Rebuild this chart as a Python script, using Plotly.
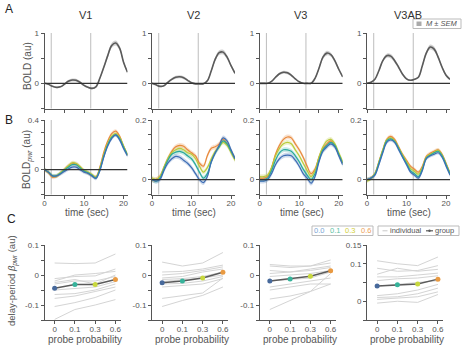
import plotly.graph_objects as go

# ---------------- data ----------------
regions = ["V1", "V2", "V3", "V3AB"]
time_sec = [0, 1, 2, 3, 4, 5, 6, 7, 8, 9, 10, 11, 12, 13, 14, 15, 16, 17, 18, 19, 20, 21]
event_times = [1.7, 11.7]

# Panel A: mean BOLD and SEM
bold_v1 = [0.0, -0.02, -0.06, -0.08, -0.07, -0.02, 0.04, 0.065, 0.06, 0.02, -0.04, -0.08,
           -0.1, -0.07, 0.1, 0.32, 0.55, 0.75, 0.8, 0.7, 0.42, 0.22]
bold_v2 = [0.0, -0.03, -0.06, -0.05, 0.02, 0.08, 0.12, 0.13, 0.11, 0.06, 0.01, -0.01,
           -0.01, -0.01, 0.05, 0.25, 0.48, 0.61, 0.62, 0.52, 0.35, 0.2]
bold_v3 = [0.0, 0.0, 0.0, 0.04, 0.12, 0.19, 0.22, 0.21, 0.16, 0.09, 0.03, 0.0,
           0.0, 0.0, 0.1, 0.3, 0.52, 0.6, 0.57, 0.45, 0.28, 0.13]
bold_v3ab = [0.0, 0.02, 0.08, 0.25, 0.45, 0.55, 0.54, 0.45, 0.32, 0.18, 0.09, 0.06,
             0.08, 0.12, 0.35, 0.6, 0.72, 0.68, 0.52, 0.32, 0.16, 0.08]
sem_v1 = [0.01, 0.01, 0.015, 0.015, 0.015, 0.02, 0.025, 0.03, 0.03, 0.025, 0.02, 0.02,
          0.02, 0.02, 0.025, 0.035, 0.045, 0.05, 0.05, 0.045, 0.035, 0.03]
sem_v2 = [0.01, 0.01, 0.015, 0.015, 0.02, 0.025, 0.03, 0.03, 0.03, 0.025, 0.02, 0.015,
          0.015, 0.015, 0.02, 0.03, 0.04, 0.045, 0.045, 0.04, 0.03, 0.025]
sem_v3 = [0.01, 0.01, 0.01, 0.015, 0.02, 0.025, 0.03, 0.03, 0.025, 0.02, 0.015, 0.015,
          0.015, 0.015, 0.02, 0.03, 0.04, 0.045, 0.04, 0.035, 0.03, 0.025]
sem_v3ab = [0.01, 0.01, 0.015, 0.02, 0.03, 0.04, 0.045, 0.04, 0.03, 0.025, 0.02, 0.015,
            0.015, 0.02, 0.03, 0.04, 0.05, 0.05, 0.04, 0.03, 0.025, 0.02]

# Panel B: BOLD_pwr per probe probability (0.0, 0.1, 0.3, 0.6)
probe_labels = ["0", "0.1", "0.3", "0.6"]
probe_legend = ["0.0", "0.1", "0.3", "0.6"]
bpwr_v1 = [
    [0.0, -0.02, -0.05, -0.05, -0.035, -0.015, 0.005, 0.02, 0.02, 0.0, -0.02, -0.03,
     -0.05, -0.07, -0.01, 0.1, 0.19, 0.25, 0.28, 0.24, 0.17, 0.11],
    [0.0, -0.02, -0.05, -0.05, -0.03, -0.005, 0.02, 0.04, 0.04, 0.015, -0.01, -0.025,
     -0.045, -0.065, 0.0, 0.11, 0.2, 0.26, 0.28, 0.25, 0.18, 0.12],
    [0.0, -0.02, -0.05, -0.05, -0.025, 0.0, 0.03, 0.055, 0.05, 0.025, -0.005, -0.02,
     -0.04, -0.06, 0.01, 0.12, 0.21, 0.27, 0.29, 0.26, 0.19, 0.12],
    [0.0, -0.025, -0.06, -0.055, -0.03, 0.0, 0.03, 0.05, 0.045, 0.02, -0.01, -0.025,
     -0.045, -0.06, 0.02, 0.14, 0.23, 0.29, 0.31, 0.27, 0.19, 0.12],
]
bpwr_v2 = [
    [0.0, -0.005, 0.0, 0.03, 0.055, 0.07, 0.078, 0.075, 0.065, 0.055, 0.04, 0.02,
     0.0, -0.01, 0.01, 0.06, 0.09, 0.115, 0.14, 0.13, 0.1, 0.07],
    [0.0, -0.005, 0.005, 0.035, 0.065, 0.085, 0.092, 0.095, 0.09, 0.08, 0.07, 0.05,
     0.025, 0.005, 0.02, 0.06, 0.09, 0.11, 0.13, 0.12, 0.095, 0.07],
    [0.005, 0.0, 0.01, 0.04, 0.07, 0.09, 0.1, 0.105, 0.1, 0.09, 0.085, 0.07,
     0.045, 0.025, 0.04, 0.07, 0.095, 0.11, 0.125, 0.115, 0.09, 0.065],
    [0.0, 0.0, 0.01, 0.04, 0.07, 0.095, 0.11, 0.115, 0.112, 0.1, 0.09, 0.08,
     0.055, 0.045, 0.08, 0.105, 0.11, 0.12, 0.135, 0.12, 0.095, 0.07],
]
bpwr_v3 = [
    [-0.005, -0.005, 0.0, 0.02, 0.05, 0.07, 0.08, 0.082, 0.08, 0.065, 0.045, 0.02,
     0.005, -0.012, 0.01, 0.06, 0.095, 0.11, 0.12, 0.11, 0.08, 0.05],
    [0.0, 0.0, 0.005, 0.03, 0.065, 0.09, 0.1, 0.1, 0.095, 0.08, 0.06, 0.035,
     0.015, 0.0, 0.02, 0.065, 0.1, 0.115, 0.125, 0.115, 0.085, 0.055],
    [0.01, 0.01, 0.015, 0.04, 0.08, 0.105, 0.12, 0.125, 0.12, 0.1, 0.08, 0.055,
     0.03, 0.01, 0.03, 0.075, 0.11, 0.13, 0.135, 0.12, 0.09, 0.06],
    [0.005, 0.005, 0.01, 0.04, 0.085, 0.115, 0.135, 0.143, 0.14, 0.12, 0.1, 0.075,
     0.045, 0.02, 0.035, 0.075, 0.105, 0.12, 0.13, 0.115, 0.085, 0.055],
]
bpwr_v3ab = [
    [0.0, 0.005, 0.015, 0.05, 0.09, 0.125, 0.133, 0.125, 0.1, 0.075, 0.05, 0.025,
     0.015, 0.005, 0.03, 0.07, 0.08, 0.085, 0.09, 0.075, 0.045, 0.015],
    [0.0, 0.005, 0.018, 0.055, 0.095, 0.13, 0.137, 0.128, 0.105, 0.078, 0.055, 0.03,
     0.02, 0.01, 0.035, 0.072, 0.082, 0.09, 0.095, 0.08, 0.05, 0.02],
    [-0.005, 0.003, 0.02, 0.058, 0.1, 0.133, 0.14, 0.13, 0.108, 0.082, 0.06, 0.038,
     0.028, 0.018, 0.04, 0.075, 0.085, 0.092, 0.098, 0.082, 0.052, 0.02],
    [0.0, 0.005, 0.02, 0.06, 0.1, 0.135, 0.145, 0.135, 0.11, 0.085, 0.065, 0.045,
     0.035, 0.025, 0.045, 0.078, 0.088, 0.095, 0.1, 0.085, 0.055, 0.022],
]
bpwr_sem = [0.015, 0.008, 0.008, 0.006]  # per region

# Panel C: delay-period beta_pwr, individual subjects and group mean
probe_pos = [1, 2, 3, 4]
indiv_v1 = [
    [0.040, 0.038, 0.040, 0.070], [-0.020, 0.000, 0.005, 0.012],
    [-0.012, -0.005, -0.003, 0.020], [-0.030, -0.020, -0.020, -0.005],
    [-0.050, -0.045, -0.040, -0.022], [-0.065, -0.062, -0.050, -0.030],
    [-0.078, -0.070, -0.055, -0.040], [-0.105, -0.092, -0.075, -0.050],
    [-0.148, -0.115, -0.100, -0.082], [-0.025, -0.015, -0.030, 0.000],
]
group_v1 = [-0.044, -0.032, -0.032, -0.015]
indiv_v2 = [
    [0.043, 0.030, 0.040, 0.075], [0.010, 0.012, 0.020, 0.033],
    [0.000, 0.005, 0.015, 0.027], [-0.010, -0.005, 0.010, 0.020],
    [-0.015, -0.012, -0.005, 0.010], [-0.022, -0.015, -0.010, 0.000],
    [-0.030, -0.028, -0.020, -0.005], [-0.040, -0.035, -0.030, -0.012],
    [-0.078, -0.070, -0.060, -0.010], [-0.105, -0.085, -0.068, -0.040],
]
group_v2 = [-0.026, -0.020, -0.010, 0.009]
indiv_v3 = [
    [0.035, 0.030, 0.030, 0.050], [0.030, 0.025, 0.030, 0.040],
    [0.015, 0.010, 0.020, 0.030], [0.005, 0.010, 0.015, 0.025],
    [-0.005, 0.000, 0.005, 0.015], [-0.020, -0.015, -0.010, 0.010],
    [-0.040, -0.030, -0.020, -0.010], [-0.050, -0.040, -0.030, -0.030],
    [-0.080, -0.070, -0.055, 0.005], [-0.115, -0.085, -0.055, -0.030],
]
group_v3 = [-0.020, -0.013, -0.004, 0.014]
indiv_v3ab = [
    [0.108, 0.100, 0.095, 0.118], [0.088, 0.080, 0.082, 0.095],
    [0.072, 0.088, 0.080, 0.085], [0.065, 0.065, 0.070, 0.075],
    [0.055, 0.060, 0.062, 0.068], [0.040, 0.045, 0.050, 0.055],
    [0.015, 0.020, 0.030, 0.045], [0.010, 0.012, 0.020, 0.035],
    [0.005, 0.008, 0.012, 0.025], [-0.005, 0.000, -0.003, 0.018],
]
group_v3ab = [0.041, 0.044, 0.046, 0.059]

bold_all = [bold_v1, bold_v2, bold_v3, bold_v3ab]
sem_all = [sem_v1, sem_v2, sem_v3, sem_v3ab]
bpwr_all = [bpwr_v1, bpwr_v2, bpwr_v3, bpwr_v3ab]
indiv_all = [indiv_v1, indiv_v2, indiv_v3, indiv_v3ab]
group_all = [group_v1, group_v2, group_v3, group_v3ab]

# ---------------- style / layout ----------------
W, H = 474, 351
FONT = "Liberation Sans, Arial, sans-serif"
AX = "#555555"
TXT = "#555555"
cond_line = ["#3d6db5", "#27a99b", "#b9cb3b", "#e8893b"]
cond_band = ["rgba(61,109,181,0.25)", "rgba(39,169,155,0.25)",
             "rgba(185,203,59,0.25)", "rgba(232,137,59,0.25)"]
group_dot = ["#47699b", "#37b39b", "#c8d83e", "#e99a42"]
legend_txt = ["#7aa6d6", "#5cc2a4", "#d2d03a", "#eea25a"]

col_left = [44.5, 152.0, 259.7, 367.0]
wAB, wC = 83.0, 76.0
rows = {"A": (33.0, 108.5), "B": (120.0, 194.5), "C": (245.0, 320.0)}

def xp(p):
    return p / W

def yp(p):
    return 1 - p / H

fig = go.Figure()
layout = dict(width=W, height=H, margin=dict(l=0, r=0, t=0, b=0),
              paper_bgcolor="white", plot_bgcolor="white", showlegend=False,
              font=dict(family=FONT, color=TXT))
shapes, annots = [], []

def note(x, y, text, size, color=TXT, angle=0):
    annots.append(dict(x=xp(x), y=yp(y), xref="paper", yref="paper", text=text,
                       xanchor="center", yanchor="middle", textangle=angle,
                       showarrow=False, font=dict(size=size, color=color, family=FONT)))

def axis_common():
    return dict(showline=True, linecolor=AX, linewidth=1, ticks="outside", ticklen=3,
                tickcolor=AX, tickwidth=1, showgrid=False, zeroline=False, automargin=False,
                tickfont=dict(size=8, color=TXT, family=FONT), fixedrange=True)

a_yticks = ([-0.5, 0, 0.5, 1], ["", "0", "", "1"])
b_yticks = [([-0.2, -0.1, 0, 0.1, 0.2, 0.3, 0.4], ["", "", "0", "", "", "", "0.4"]),
            ([-0.05, 0, 0.05, 0.1, 0.15, 0.2], ["", "0", "", "", "", "0.2"]),
            ([-0.05, 0, 0.05, 0.1, 0.15, 0.2], ["", "0", "", "", "", "0.2"]),
            ([-0.05, 0, 0.05, 0.1, 0.15, 0.2], ["", "0", "", "", "", "0.2"])]
b_yrange = [[-0.2, 0.4], [-0.05, 0.2], [-0.05, 0.2], [-0.05, 0.2]]
c_yticks = [([-0.15, -0.1, -0.05, 0, 0.05, 0.1], ["", "-0.1", "", "0", "", "0.1"])] * 3 + \
           [([-0.05, 0, 0.05, 0.1, 0.15], ["", "0", "", "0.1", "0.15"])]
c_yrange = [[-0.15, 0.1]] * 3 + [[-0.05, 0.15]]

for r, row in enumerate(["A", "B", "C"]):
    top, bot = rows[row]
    for c in range(4):
        k = r * 4 + c + 1
        sfx = "" if k == 1 else str(k)
        xa, ya = "x" + sfx, "y" + sfx
        w = wC if row == "C" else wAB
        xd = [xp(col_left[c]), xp(col_left[c] + w)]
        yd = [yp(bot), yp(top)]
        xax = axis_common()
        yax = axis_common()
        xax.update(domain=xd, anchor=ya)
        yax.update(domain=yd, anchor=xa)
        if row in ("A", "B"):
            xax.update(range=[0, 21], tickvals=[0, 5, 10, 15, 20],
                       ticktext=["", "", "", "", ""] if row == "A" else ["0", "", "10", "", "20"],
                       ticklabelstandoff=-2)
            if row == "A":
                yax.update(range=[-0.5, 1], tickvals=a_yticks[0], ticktext=a_yticks[1])
            else:
                yax.update(range=b_yrange[c], tickvals=b_yticks[c][0], ticktext=b_yticks[c][1])
            for et in event_times:
                shapes.append(dict(type="line", xref=xa, yref=f"{ya} domain", x0=et, x1=et,
                                   y0=0, y1=1, line=dict(color="#bdbdbd", width=1), layer="below"))
            shapes.append(dict(type="line", xref=xa, yref=ya, x0=0, x1=21, y0=0, y1=0,
                               line=dict(color="#333333", width=1.3), layer="above"))
        else:
            xax.update(range=[0.5, 4.25], tickvals=probe_pos, ticktext=probe_labels,
                       ticklabelstandoff=-2)
            yax.update(range=c_yrange[c], tickvals=c_yticks[c][0], ticktext=c_yticks[c][1])
        layout["xaxis" + sfx] = xax
        layout["yaxis" + sfx] = yax

        if row == "A":
            m, s = bold_all[c], sem_all[c]
            lo = [a - b for a, b in zip(m, s)]
            hi = [a + b for a, b in zip(m, s)]
            fig.add_trace(go.Scatter(x=time_sec, y=lo, mode="lines", xaxis=xa, yaxis=ya,
                                     line=dict(width=0, shape="spline"), hoverinfo="skip"))
            fig.add_trace(go.Scatter(x=time_sec, y=hi, mode="lines", xaxis=xa, yaxis=ya,
                                     line=dict(width=0, shape="spline"), fill="tonexty",
                                     fillcolor="rgba(150,150,150,0.45)", hoverinfo="skip"))
            fig.add_trace(go.Scatter(x=time_sec, y=m, mode="lines", xaxis=xa, yaxis=ya,
                                     line=dict(color="#5a5a5a", width=1.6, shape="spline")))
        elif row == "B":
            for i in range(4):
                m = bpwr_all[c][i]
                s = bpwr_sem[c]
                lo = [a - s for a in m]
                hi = [a + s for a in m]
                fig.add_trace(go.Scatter(x=time_sec, y=lo, mode="lines", xaxis=xa, yaxis=ya,
                                         line=dict(width=0, shape="spline"), hoverinfo="skip"))
                fig.add_trace(go.Scatter(x=time_sec, y=hi, mode="lines", xaxis=xa, yaxis=ya,
                                         line=dict(width=0, shape="spline"), fill="tonexty",
                                         fillcolor=cond_band[i], hoverinfo="skip"))
            for i in [3, 2, 1, 0]:
                fig.add_trace(go.Scatter(x=time_sec, y=bpwr_all[c][i], mode="lines",
                                         xaxis=xa, yaxis=ya,
                                         line=dict(color=cond_line[i], width=1.2, shape="spline")))
        else:
            for subj in indiv_all[c]:
                fig.add_trace(go.Scatter(x=probe_pos, y=subj, mode="lines", xaxis=xa, yaxis=ya,
                                         line=dict(color="#d4d4d4", width=1)))
            fig.add_trace(go.Scatter(x=probe_pos, y=group_all[c], mode="lines+markers",
                                     xaxis=xa, yaxis=ya, line=dict(color="#5a5a5a", width=1.5),
                                     marker=dict(color=group_dot, size=5)))

# titles
for c, name in enumerate(regions):
    note(col_left[c] + 41, 15, name, 11, "#333333")
# panel letters
note(9, 9, "A", 12, "#222222")
note(9, 120, "B", 12, "#222222")
note(11, 219, "C", 12, "#222222")
# axis titles
note(27, 66, "BOLD (au)", 10, TXT, -90)
note(27, 160, "BOLD<sub><i>pwr</i></sub> (au)", 10, TXT, -90)
note(12, 281, "delay-period <i>β</i><sub><i>pwr</i></sub> (au)", 9.5, TXT, -90)
for c in range(4):
    note(col_left[c] + 42, 212, "time (sec)", 10)
    note(col_left[c] + 40, 339, "probe probability", 10)

# legend A
shapes.append(dict(type="rect", xref="paper", yref="paper", x0=xp(413), x1=xp(461),
                   y0=yp(28.5), y1=yp(19), line=dict(color="#bbbbbb", width=1), fillcolor="white"))
shapes.append(dict(type="rect", xref="paper", yref="paper", x0=xp(416.5), x1=xp(421.5),
                   y0=yp(26), y1=yp(21.5), line=dict(width=0), fillcolor="#aaaaaa"))
note(441.5, 23.8, "<i>M ± SEM</i>", 7.5)

# legend C
shapes.append(dict(type="rect", xref="paper", yref="paper", x0=xp(312), x1=xp(373),
                   y0=yp(235.5), y1=yp(226), line=dict(color="#bbbbbb", width=1), fillcolor="white"))
for i, lab in enumerate(probe_legend):
    note(319 + i * 15.5, 230.8, lab, 7.5, legend_txt[i])
shapes.append(dict(type="rect", xref="paper", yref="paper", x0=xp(378), x1=xp(459),
                   y0=yp(235.5), y1=yp(226), line=dict(color="#bbbbbb", width=1), fillcolor="white"))
shapes.append(dict(type="line", xref="paper", yref="paper", x0=xp(382.5), x1=xp(387.5),
                   y0=yp(230.8), y1=yp(230.8), line=dict(color="#c8c8c8", width=1)))
note(406, 230.8, "individual", 7.5)
shapes.append(dict(type="line", xref="paper", yref="paper", x0=xp(426), x1=xp(433),
                   y0=yp(230.8), y1=yp(230.8), line=dict(color="#5a5a5a", width=1.2)))
shapes.append(dict(type="circle", xref="paper", yref="paper", x0=xp(428.3), x1=xp(430.7),
                   y0=yp(232), y1=yp(229.6), line=dict(width=0), fillcolor="#5a5a5a"))
note(444, 230.8, "group", 7.5)

layout["shapes"] = shapes
layout["annotations"] = annots
fig.update_layout(**layout)
fig.write_html("out.html")
